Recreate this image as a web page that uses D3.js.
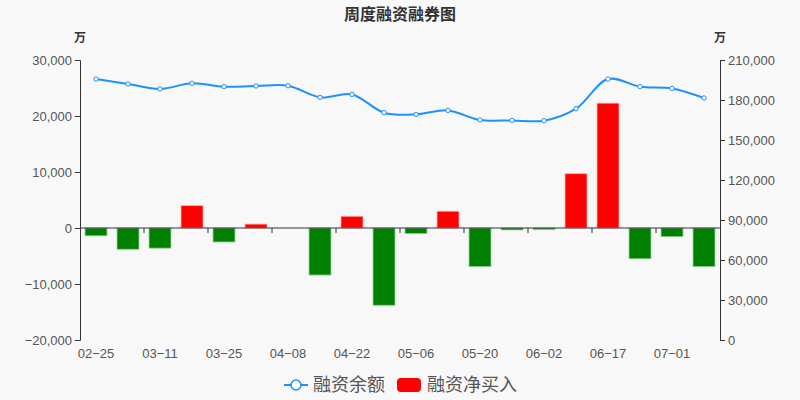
<!DOCTYPE html>
<html>
<head>
<meta charset="utf-8">
<script src="https://cdn.jsdelivr.net/npm/d3@7"></script>
<style>
  body { margin: 0; background: #f8f8f8; }
  svg { display: block; font-family: "Noto Sans CJK SC", "Noto Sans", sans-serif; }
</style>
</head>
<body>
<svg></svg>
<script>
const width = 800,
      height = 400,
      margin = { top: 60, right: 80, bottom: 60, left: 80 };

const weeks = ['02-25', '03-04', '03-11', '03-18', '03-25', '04-01', '04-08', '04-15', '04-22', '04-29',
               '05-06', '05-13', '05-20', '05-27', '06-02', '06-10', '06-17', '06-24', '07-01', '07-08'];

// 融资净买入 (万)
const netBuy = [-1400, -3800, -3600, 4000, -2500, 700, 0, -8400, 2100, -13800,
                -1000, 3000, -6900, -350, -300, 9700, 22300, -5500, -1550, -6900];

// 融资余额 (万)
const balance = [195700, 192000, 188300, 192500, 190000, 190500, 190700, 182000, 184200, 170500,
                 169200, 172200, 165000, 164700, 164500, 173500, 195700, 190000, 188700, 181500];

const leftTicks = [-20000, -10000, 0, 10000, 20000, 30000];
const rightTicks = [0, 30000, 60000, 90000, 120000, 150000, 180000, 210000];

const svg = d3.select('svg')
    .attr('width', width)
    .attr('height', height);

svg.append('rect')
    .attr('width', width)
    .attr('height', height)
    .attr('fill', '#f8f8f8');

const x = d3.scaleBand()
    .domain(weeks)
    .range([margin.left, width - margin.right]);

const yLeft = d3.scaleLinear()
    .domain([-20000, 30000])
    .range([height - margin.bottom, margin.top]);

const yRight = d3.scaleLinear()
    .domain([0, 210000])
    .range([height - margin.bottom, margin.top]);

const fmt = d3.format(',');

// title
svg.append('text')
    .attr('x', width / 2)
    .attr('y', 20)
    .attr('text-anchor', 'middle')
    .attr('font-size', 16)
    .attr('font-weight', 'bold')
    .attr('fill', '#333')
    .text('周度融资融券图');

// left axis
const leftAxis = svg.append('g')
    .attr('transform', `translate(${margin.left},0)`)
    .call(d3.axisLeft(yLeft).tickValues(leftTicks).tickSize(5).tickFormat((d) => fmt(d).replace('-', '−')));

const rightAxis = svg.append('g')
    .attr('transform', `translate(${width - margin.right},0)`)
    .call(d3.axisRight(yRight).tickValues(rightTicks).tickSize(5).tickFormat(fmt));

[leftAxis, rightAxis].forEach((g) => {
  g.select('.domain').attr('stroke', '#333');
  g.selectAll('.tick line').attr('stroke', '#333');
  g.selectAll('.tick text')
    .attr('fill', '#555')
    .attr('font-size', 13)
    .attr('font-family', 'Arial, "Liberation Sans", sans-serif');
});
leftAxis.selectAll('.tick text').attr('x', -8);
rightAxis.selectAll('.tick text').attr('x', 8);

svg.append('text')
    .attr('x', margin.left)
    .attr('y', 42)
    .attr('text-anchor', 'middle')
    .attr('font-size', 12)
    .attr('font-weight', 'bold')
    .attr('fill', '#333')
    .text('万');

svg.append('text')
    .attr('x', width - margin.right)
    .attr('y', 42)
    .attr('text-anchor', 'middle')
    .attr('font-size', 12)
    .attr('font-weight', 'bold')
    .attr('fill', '#333')
    .text('万');

// x axis at zero of the left scale
const xAxis = svg.append('g')
    .attr('transform', `translate(0,${yLeft(0)})`);

xAxis.selectAll('.xtick')
  .data(weeks.filter((d, i) => i % 2 === 0 && i > 0))
  .enter()
  .append('line')
    .attr('x1', (d) => x(d))
    .attr('x2', (d) => x(d))
    .attr('y1', 0)
    .attr('y2', 5)
    .attr('stroke', '#333');

svg.append('g')
  .selectAll('text')
  .data(weeks.filter((d, i) => i % 2 === 0))
  .enter()
  .append('text')
    .attr('x', (d) => x(d) + x.bandwidth() / 2)
    .attr('y', height - margin.bottom + 18)
    .attr('text-anchor', 'middle')
    .attr('font-size', 13)
    .attr('font-family', 'Arial, "Liberation Sans", sans-serif')
    .attr('fill', '#555')
    .text((d) => d.replace('-', '−'));

// bars
const barW = 22;
svg.append('g')
  .selectAll('rect')
  .data(netBuy.map((v, i) => ({ week: weeks[i], value: v })).filter((d) => d.value !== 0))
  .enter()
  .append('rect')
    .attr('x', (d) => x(d.week) + (x.bandwidth() - barW) / 2)
    .attr('y', (d) => yLeft(Math.max(0, d.value)))
    .attr('width', barW)
    .attr('height', (d) => Math.abs(yLeft(d.value) - yLeft(0)))
    .attr('fill', (d) => d.value >= 0 ? '#ff0000' : '#008000')
    .attr('stroke', (d) => d.value >= 0 ? '#ffb0b0' : '#9fd09f')
    .attr('stroke-width', 0.8);

// zero line drawn over the bars
svg.append('line')
    .attr('x1', margin.left)
    .attr('x2', width - margin.right)
    .attr('y1', yLeft(0))
    .attr('y2', yLeft(0))
    .attr('stroke', '#333');

// balance line
const line = d3.line()
    .x((d, i) => x(weeks[i]) + x.bandwidth() / 2)
    .y((d) => yRight(d))
    .curve(d3.curveCatmullRom.alpha(0.5));

svg.append('path')
    .datum(balance)
    .attr('d', line)
    .attr('fill', 'none')
    .attr('stroke', '#1e90ff')
    .attr('stroke-width', 2);

svg.append('g')
  .selectAll('circle')
  .data(balance)
  .enter()
  .append('circle')
    .attr('cx', (d, i) => x(weeks[i]) + x.bandwidth() / 2)
    .attr('cy', (d) => yRight(d))
    .attr('r', 2.2)
    .attr('fill', '#fff')
    .attr('stroke', '#1e90ff')
    .attr('stroke-width', 1);

// legend
const legend = svg.append('g')
    .attr('transform', 'translate(0,385)');

legend.append('line')
    .attr('x1', 284)
    .attr('x2', 308)
    .attr('stroke', '#1e90ff')
    .attr('stroke-width', 2);

legend.append('circle')
    .attr('cx', 296)
    .attr('r', 5)
    .attr('fill', '#fff')
    .attr('stroke', '#1e90ff')
    .attr('stroke-width', 1.5);

legend.append('text')
    .attr('x', 313)
    .attr('y', 6)
    .attr('font-size', 18)
    .attr('fill', '#555')
    .text('融资余额');

legend.append('rect')
    .attr('x', 397)
    .attr('y', -7)
    .attr('width', 24)
    .attr('height', 14)
    .attr('rx', 4)
    .attr('fill', '#ff0000');

legend.append('text')
    .attr('x', 427)
    .attr('y', 6)
    .attr('font-size', 18)
    .attr('fill', '#555')
    .text('融资净买入');
</script>
</body>
</html>
